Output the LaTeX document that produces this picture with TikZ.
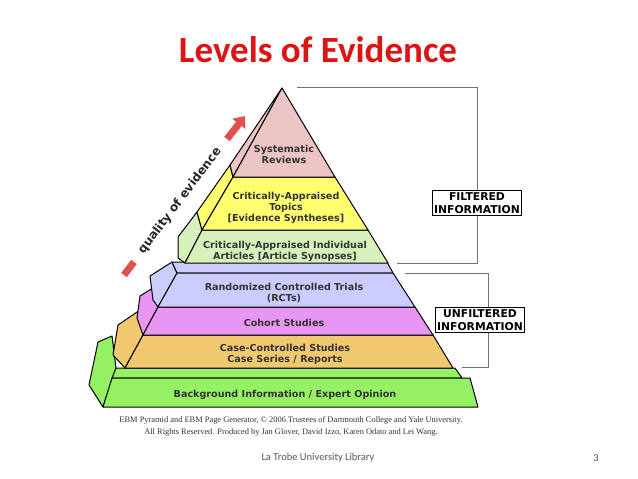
\documentclass[tikz,border=0pt]{standalone}
\usepackage{fontspec}
\usetikzlibrary{arrows.meta}
\setmainfont{Carlito}
\newfontfamily\verd{DejaVu Sans}
\newfontfamily\tnr{Liberation Serif}
\definecolor{cpink}{RGB}{236,196,196}
\definecolor{cyel}{RGB}{255,255,112}
\definecolor{clgr}{RGB}{214,242,186}
\definecolor{clav}{RGB}{204,204,255}
\definecolor{cmag}{RGB}{232,150,242}
\definecolor{corg}{RGB}{240,200,112}
\definecolor{cgrn}{RGB}{150,240,100}
\definecolor{ttl}{RGB}{220,20,20}
\definecolor{arrc}{RGB}{225,80,80}
\tikzset{x=1pt,y=-1pt,
 band/.style={draw=black,line width=1pt,line join=round},
 lbl/.style={font=\verd\bfseries\fontsize{9.6}{11}\selectfont,align=center,text=black!80},
 brk/.style={draw=black!55,line width=0.8pt},
 infobox/.style={draw=black,line width=1pt,fill=white,font=\verd\bfseries\fontsize{10.8}{12.5}\selectfont,align=center,inner sep=2pt}}
\begin{document}
\begin{tikzpicture}
\useasboundingbox[fill=white] (0,0) rectangle (638,479);
\node[font=\bfseries\fontsize{37}{40}\selectfont,text=ttl] (title) at (318,50) {Levels of Evidence};
% brackets
\coordinate (f1) at (297,87); \coordinate (f2) at (477,87);
\coordinate (f3) at (477,263); \coordinate (f4) at (397,263);
\node[infobox] (filt) at (477,203) {FILTERED\\INFORMATION};
\draw[brk] (f1) -- (f2) -- (filt.north);
\draw[brk] (filt.south) -- (f3) -- (f4);
\coordinate (u1) at (405,273); \coordinate (u2) at (488,273);
\coordinate (u3) at (488,367); \coordinate (u4) at (462,367);
\node[infobox] (unf) at (480,320) {UNFILTERED\\INFORMATION};
\draw[brk] (u1) -- (u2) -- (u2|-unf.north);
\draw[brk] (u2|-unf.south) -- (u3) -- (u4);
% bottom green
\draw[band,fill=cgrn] (116,368) -- (103,407) -- (89,385) -- (98,342) -- (112,336) -- cycle;
\draw[band,fill=cgrn] (116,368) -- (455,368) -- (462,378) -- (112,378) -- cycle;
\draw[band,fill=cgrn] (112,378) -- (470,378) -- (478,407) -- (103,407) -- cycle;
% orange
\draw[band,fill=corg] (143,335) -- (125,368) -- (113,355) -- (118,325) -- (140,310) -- cycle;
\draw[band,fill=corg] (143,335) -- (433,335) -- (453,368) -- (125,368) -- cycle;
% magenta
\draw[band,fill=cmag] (158,307) -- (143,335) -- (137,318) -- (140,296) -- (156,286) -- cycle;
\draw[band,fill=cmag] (158,307) -- (415,307) -- (433,335) -- (143,335) -- cycle;
% lavender
\draw[band,fill=clav] (172,262) -- (177,273) -- (158,307) -- (153,300) -- (150,276) -- cycle;
\draw[band,fill=clav] (172,262) -- (387,262) -- (393,273) -- (177,273) -- cycle;
\draw[band,fill=clav] (177,273) -- (393,273) -- (415,307) -- (158,307) -- cycle;
% top pyramid side faces
\draw[band,fill=clgr] (202,230) -- (185,263) -- (178,258) -- (178,237) -- (197,212) -- cycle;
\draw[band,fill=cyel] (233,177) -- (202,230) -- (197,212) -- (230,165) -- cycle;
\draw[band,fill=cpink] (282,88) -- (233,177) -- (230,165) -- cycle;
% top pyramid fronts
\draw[band,fill=clgr] (202,230) -- (368,230) -- (388,263) -- (185,263) -- cycle;
\draw[band,fill=cyel] (233,177) -- (335,177) -- (368,230) -- (202,230) -- cycle;
\draw[band,fill=cpink] (282,88) -- (335,177) -- (233,177) -- cycle;
% labels
\node[lbl] (sr) at (284,154) {Systematic\\Reviews};
\node[lbl] (cat) at (286,208) {Critically-Appraised\\Topics\\{}[Evidence Syntheses]};
\node[lbl] (cai) at (285,251) {Critically-Appraised Individual\\Articles [Article Synopses]};
\node[lbl] (rct) at (284,293) {Randomized Controlled Trials\\(RCTs)};
\node[lbl] (coh) at (284,323) {Cohort Studies};
\node[lbl] (ccs) at (285,354) {Case-Controlled Studies\\Case Series / Reports};
\node[lbl] (bg) at (285,395) {Background Information / Expert Opinion};
% quality arrow
\coordinate (q1) at (124,275); \coordinate (q2) at (134,262);
\coordinate (q3) at (227,139); \coordinate (q4) at (245,116);
\draw[arrc,line width=7pt] (q1) -- (q2);
\draw[arrc,line width=7pt,-{Triangle[length=10pt,width=16pt]}] (q3) -- (q4);
\node[font=\verd\bfseries\fontsize{12}{13}\selectfont,text=black!85,rotate=53,inner sep=0pt] (qe) at (180,201) {quality of evidence};
% credits
\node[font=\tnr\fontsize{8.4}{12}\selectfont,align=center,text=black!80] (cred) at (291,426) {EBM Pyramid and EBM Page Generator, \textcopyright\ 2006 Trustees of Dartmouth College and Yale University.\\All Rights Reserved. Produced by Jan Glover, David Izzo, Karen Odato and Lei Wang.};
\node[font=\fontsize{10.5}{12}\selectfont,text=black!65] (foot) at (318,458) {La Trobe University Library};
\node[font=\fontsize{10.5}{12}\selectfont,text=black!65] (pg) at (596,458) {3};
\end{tikzpicture}
\end{document}
